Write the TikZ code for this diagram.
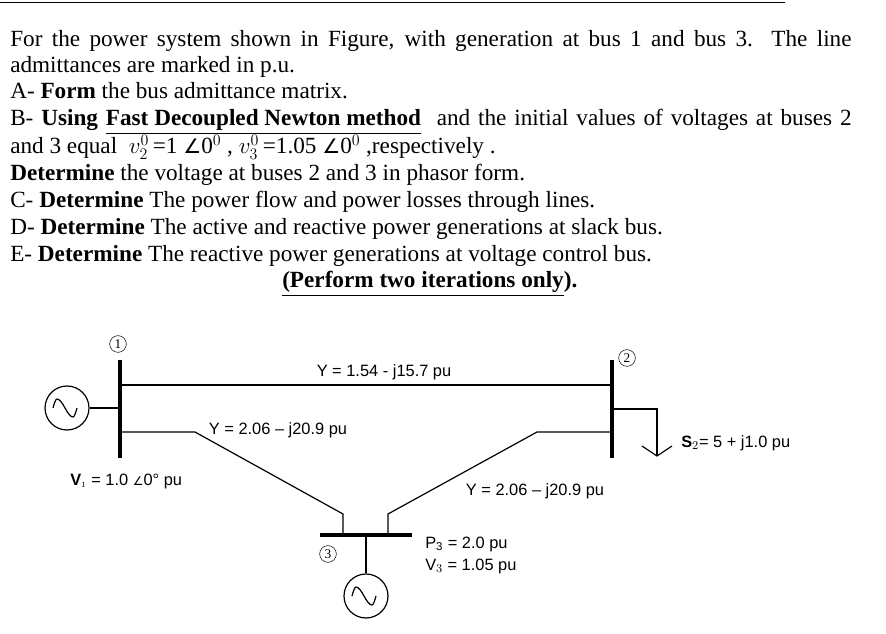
\documentclass[tikz,border=0pt]{standalone}
\usepackage{fontspec}
\setmainfont{Liberation Serif}
\setsansfont{Liberation Sans}
\newfontfamily\dejavu{DejaVu Sans}
\begin{document}
\begin{tikzpicture}[x=0.75pt,y=-0.75pt,
  txt/.style={anchor=base west,inner sep=0pt,font=\fontsize{17.4}{20}\selectfont},
  lbl/.style={inner sep=0pt,font=\sffamily\fontsize{12.3}{14}\selectfont},
  wire/.style={line width=0.9pt},
  busbar/.style={line width=3pt},
  num/.style={circle,draw,line width=0.4pt,inner sep=0pt,minimum size=12.5pt,font=\fontsize{10}{10}\selectfont},
  gen/.style={circle,draw,line width=0.9pt,minimum size=33pt}]
\useasboundingbox (0,0) rectangle (886,634);
\draw[line width=0.6pt] (0,2) coordinate (tl) -- (785,2) coordinate (tr);
\node[txt] (l1) at (10,47) {\makebox[631pt][s]{For the power system shown in Figure, with generation at bus 1 and bus 3. The line}};
\node[txt] (l2) at (10,73) {admittances are marked in p.u.};
\node[txt] (l3) at (10,99) {A- \textbf{Form} the bus admittance matrix.};
\node[txt] (l4) at (10,126) {\makebox[631pt][s]{B- \textbf{Using \underline{Fast Decoupled Newton method}}\ \ and the initial values of voltages at buses 2}};
\node[txt] (l5) at (10,154) {and 3 equal \ $v_2^0\,$=1 {\dejavu\fontsize{15}{16}\selectfont∠}0$^0$ , $v_3^0\,$=1.05 {\dejavu\fontsize{15}{16}\selectfont∠}0$^0$ ,respectively .};
\node[txt] (l6) at (10,181) {\textbf{Determine} the voltage at buses 2 and 3 in phasor form.};
\node[txt] (l7) at (10,208) {C- \textbf{Determine} The power flow and power losses through lines.};
\node[txt] (l8) at (10,235) {D- \textbf{Determine} The active and reactive power generations at slack bus.};
\node[txt] (l9) at (10,262) {E- \textbf{Determine} The reactive power generations at voltage control bus.};
\node[txt] (l10) at (282,288) {\textbf{\underline{(Perform two iterations only}).}};
% buses
\draw[busbar] (120,360) coordinate (b1t) -- (120,458) coordinate (b1b);
\draw[busbar] (612,360) coordinate (b2t) -- (612,458) coordinate (b2b);
\draw[busbar] (320,535) coordinate (b3l) -- (412,535) coordinate (b3r);
\coordinate (b1a) at (120,385); \coordinate (b2a) at (612,385);
\coordinate (b1g) at (120,408); \coordinate (b1c) at (120,432);
\coordinate (b2c) at (612,432); \coordinate (b2l) at (612,409);
\coordinate (b3a) at (343,535); \coordinate (b3b) at (388,535); \coordinate (b3g) at (366,535);
\node[gen] (g1) at (67,408) {};
\node[gen] (g3) at (366,596) {};
\draw[wire,x=0.75pt,y=0.75pt] ([xshift=-10.5pt]g1.center) sin +(4,9) cos +(8,-9) sin +(8,-9) cos +(4,9);
\draw[wire,x=0.75pt,y=0.75pt] ([xshift=-10.5pt]g3.center) sin +(4,9) cos +(8,-9) sin +(8,-9) cos +(4,9);
\draw[wire] (g1) -- (b1g);
\draw[wire] (b3g) -- (g3);
\draw[wire] (b1a) -- (b2a);
\draw[wire] (b1c) -- (195,432) -- (343,514) -- (b3a);
\draw[wire] (b2c) -- (537,432) -- (388,514) -- (b3b);
\draw[wire] (b2l) -- (657,409) -- (657,456) coordinate (ld);
\draw[wire] (642,446) -- (ld) -- (672,446);
\node[num] (n1) at (118,344) {1};
\node[num] (n2) at (627,358) {2};
\node[num] (n3) at (328,554) {3};
\node[lbl] (y12) at (384,372) {Y = 1.54 - j15.7 pu};
\node[lbl] (y13) at (278,430) {Y = 2.06 -- j20.9 pu};
\node[lbl] (y23) at (535,491) {Y = 2.06 -- j20.9 pu};
\node[lbl,anchor=west] (v1) at (70,481) {\textbf{V}$_{\scriptscriptstyle 1}$ = 1.0 {\dejavu\fontsize{9}{10}\selectfont∠}0° pu};
\node[lbl,anchor=west] (s2) at (681,443) {\textbf{S}$_{\scriptstyle 2}$= 5 + j1.0 pu};
\node[lbl,anchor=west] (p3) at (425,544) {P\textsubscript{3} = 2.0 pu};
\node[lbl,anchor=west] (v3) at (425,566) {V$_{\scriptstyle 3}$ = 1.05 pu};
\end{tikzpicture}
\end{document}
